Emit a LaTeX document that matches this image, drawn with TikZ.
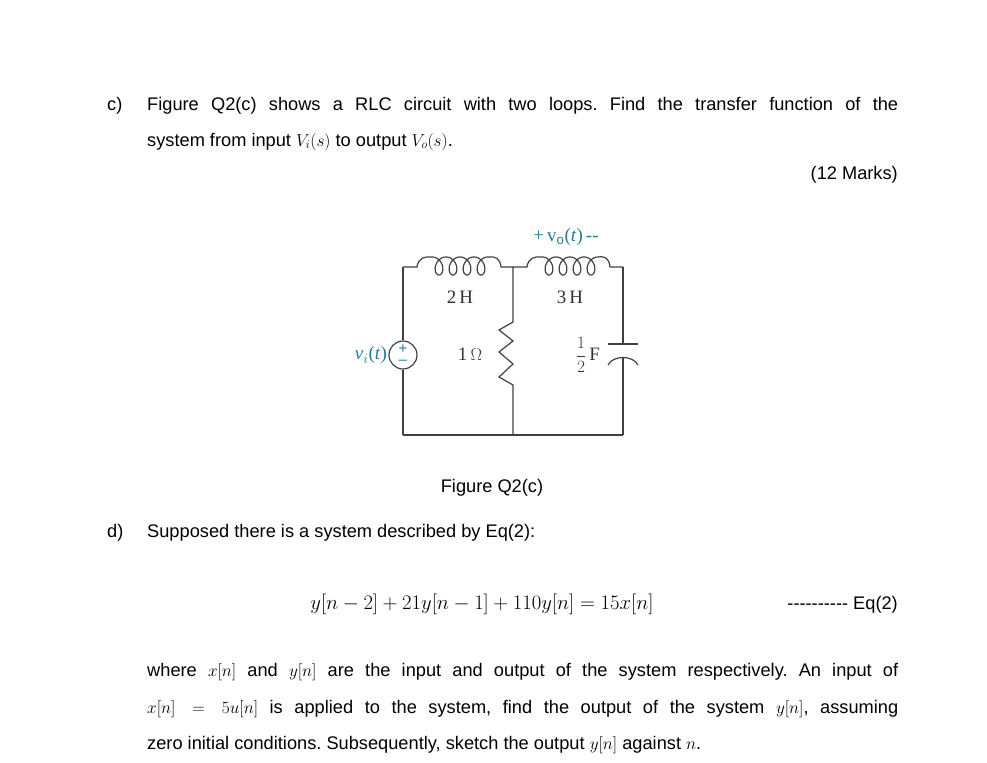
\documentclass[tikz,border=0pt]{standalone}
\usepackage{fontspec}
\setmainfont{Liberation Sans}
\newfontfamily\serif{Liberation Serif}
\definecolor{teal2}{RGB}{40,120,150}
\frenchspacing
\begin{document}
\begin{tikzpicture}[x=1bp,y=-1bp,
  txt/.style={anchor=base west,inner sep=0,font=\fontsize{18.3}{20}\selectfont},
  clab/.style={inner sep=0,font=\serif\fontsize{19}{20}\selectfont,text=black!80},
  wire/.style={line width=1.2pt,black!75}]
\useasboundingbox (0,0) rectangle (987,763);
% text
\node[txt] (c) at (107,110) {c)};
\node[txt] (l1) at (147,110) {\makebox[751bp][s]{Figure Q2(c) shows a RLC circuit with two loops. Find the transfer function of the}};
\node[txt] (l2) at (147,146) {system from input $V_i(s)$ to output $V_o(s)$.};
\node[txt,anchor=base east] (m) at (898,179) {(12 Marks)};
\node[txt,anchor=base] (fig) at (492,492) {Figure Q2(c)};
\node[txt] (d) at (107,537) {d)};
\node[txt] (l3) at (147,537) {Supposed there is a system described by Eq(2):};
\node[txt,anchor=base,font=\fontsize{20.8}{22}\selectfont] (eq) at (482,609) {$y[n-2]+21y[n-1]+110y[n]=15x[n]$};
\node[txt,anchor=base east] (eqn) at (898,609) {{-}{-}{-}{-}{-}{-}{-}{-}{-}{-} Eq(2)};
\node[txt] (l4) at (147,676) {\makebox[751bp][s]{where $x[n]$ and $y[n]$ are the input and output of the system respectively. An input of}};
\node[txt] (l5) at (147,713) {\makebox[751bp][s]{$x[n]=5u[n]$ is applied to the system, find the output of the system $y[n]$, assuming}};
\node[txt] (l6) at (147,749) {zero initial conditions. Subsequently, sketch the output $y[n]$ against $n$.};
% circuit
\coordinate (tl) at (403,267); \coordinate (tm) at (513,267); \coordinate (tr) at (623,267);
\coordinate (bl) at (403,435); \coordinate (bm) at (513,435); \coordinate (br) at (623,435);
\draw[wire] (bl) -- (br);
\draw[wire] (tm) -- (513,322) -- (499,330) -- (513,341) -- (499,352) -- (513,364) -- (499,377) -- (513,385) -- (bm);
\node[circle,draw,line width=1.2pt,black!75,minimum size=28bp,inner sep=0] (src) at (403,355) {};
\node[text=teal2,inner sep=0,font=\fontsize{15}{15}\selectfont] (pp) at (403,349) {+};
\node[text=teal2,inner sep=0,font=\fontsize{15}{15}\selectfont] (mm) at (403,362) {--};
\draw[wire] (tl) -- (src.north); \draw[wire] (src.south) -- (bl);
% inductor 1
\draw[wire] (tl) -- (417,267) .. controls (418,258) and (425,256) .. (432,257)
  plot[domain=0:8*pi,samples=240,variable=\t] ({432+56/(8*pi)*\t+7*sin(\t r)},{266-9*cos(\t r)})
  .. controls (495,256) and (500,258) .. (501,267) -- (tm);
% inductor 2
\draw[wire] (tm) -- (527,267) .. controls (528,258) and (535,256) .. (542,257)
  plot[domain=0:8*pi,samples=240,variable=\t] ({542+56/(8*pi)*\t+7*sin(\t r)},{266-9*cos(\t r)})
  .. controls (605,256) and (609,258) .. (610,267) -- (tr);
% capacitor
\draw[wire] (tr) -- (623,344); \draw[wire] (608,344) -- (638,344);
\draw[wire] (608,365) .. controls (613,355) and (633,355) .. (638,365);
\draw[wire] (623,357) -- (br);
% labels
\node[clab,text=teal2] (vo) at (566,237) {+\,v$_{\mathrm o}$(\textit{t})\,--};
\node[clab] (l2h) at (460,297) {2\,H};
\node[clab] (l3h) at (570,297) {3\,H};
\node[clab] (r1) at (470,354) {1\,$\Omega$};
\node[clab] (cf) at (588,355) {$\displaystyle\frac{1}{2}$\,F};
\node[clab,text=teal2,anchor=east] (vi) at (387,355) {\textit{v$_i$}(\textit{t})};
\end{tikzpicture}
\end{document}
